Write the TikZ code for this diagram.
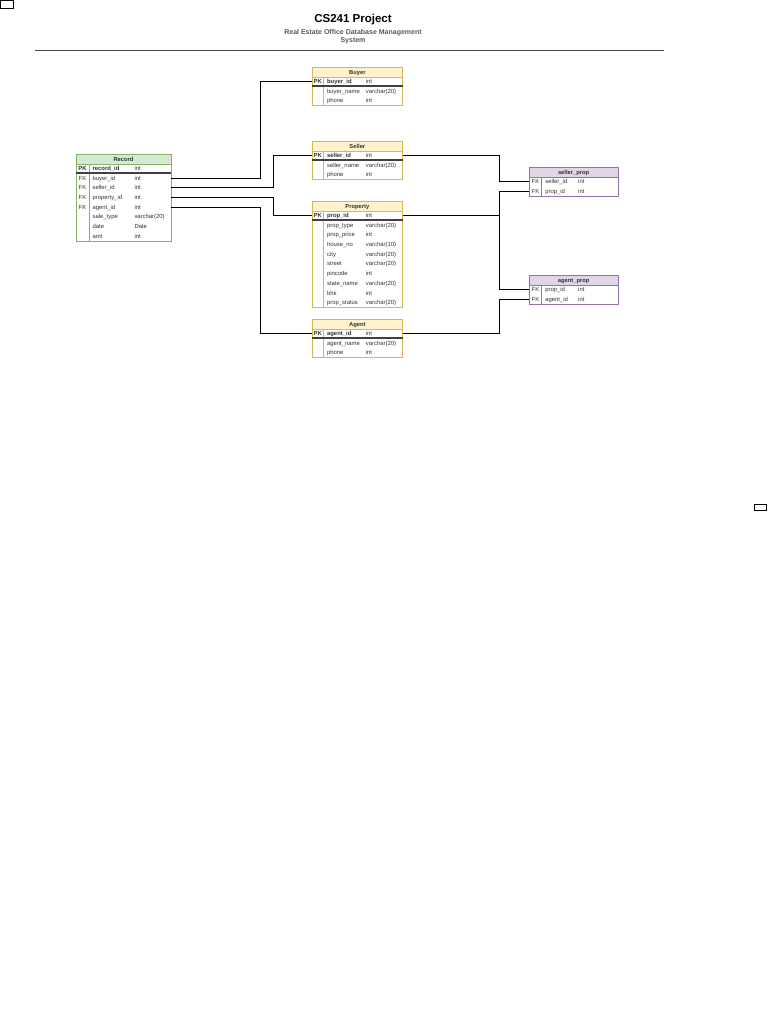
\documentclass[tikz,border=0pt]{standalone}
\usepackage{fontspec}
\setmainfont{Liberation Sans}
\usetikzlibrary{calc}
\definecolor{yelF}{HTML}{FFF2CC}\definecolor{yelD}{HTML}{D6B656}
\definecolor{grnF}{HTML}{D5E8D4}\definecolor{grnD}{HTML}{82B366}
\definecolor{purF}{HTML}{E1D5E7}\definecolor{purD}{HTML}{9673A6}
\definecolor{txt}{HTML}{333333}
\def\kwyel{11.5}\def\kwgrn{13}\def\kwpur{12.4}
\tikzset{
 tabtitle/.style={font=\bfseries\fontsize{5.8}{6}\selectfont, text=txt, inner sep=0, anchor=base},
 tabtext/.style={font=\fontsize{5.9}{6}\selectfont, text=txt, inner sep=0},
 rowslot/.style={inner sep=0, minimum height=9pt},
 link/.style={draw=black, line width=0.8pt},
 pagebox/.style={draw=black, line width=0.8pt},
}
% #1 id #2 L #3 R #4 T #5 B #6 scheme #7 title #8 type offset #9 rows
\newcommand\ertable[9]{%
 \pgfmathsetmacro\erKW{\csname kw#6\endcsname}%
 \pgfmathsetmacro\erW{#3-#2}%
 \pgfmathsetmacro\erM{(#2+#3)/2}%
 \draw[#6D, line width=0.7pt, fill=white] (#2,#4+10) rectangle (#3,#5);
 \draw[#6D, line width=0.7pt, fill=#6F] (#2,#4) rectangle (#3,#4+10);
 \draw[#6D, line width=0.7pt] (#2+\erKW,#4+10) -- (#2+\erKW,#5);
 \node[tabtitle] (#1-title) at (\erM,#4+7.1) {#7};
 \foreach \k/\n/\t/\p [count=\i from 0] in {#9}{
   \node[rowslot, minimum width=\erW pt] (#1-\i) at (\erM, #4+14.3+9.7*\i) {};
   \node[tabtext, anchor=base] at (#2+\erKW/2, #4+16.4+9.7*\i) {\ifnum\p=1 \bfseries\fi\k};
   \node[tabtext, anchor=base west] at (#2+\erKW+3.4, #4+16.4+9.7*\i) {\ifnum\p=1 \underline{\bfseries\n}\else\n\fi};
   \node[tabtext, anchor=base west] at (#2+#8, #4+16.4+9.7*\i) {\t};
   \ifnum\p=1 \draw[black!75, line width=1.2pt] (#2,#4+19) -- (#3,#4+19);\fi
 }
}
\begin{document}
\begin{tikzpicture}[x=1pt,y=-1pt]
\useasboundingbox (0,0) rectangle (768,1024);
\draw[pagebox] (0.7,0.7) rectangle (13.3,8);
\draw[pagebox] (754,504) rectangle (766,510.5);

\node[font=\bfseries\fontsize{11.5}{13}\selectfont] (title) at (353,19.7) {CS241 Project};
\node[font=\bfseries\fontsize{7}{7.8}\selectfont, text=black!65, align=center] (sub) at (353,36.3) {Real Estate Office Database Management\\System};
\draw[line width=0.8pt, black!70] (35,50.3) -- (664,50.3);

\ertable{buyer}{312}{402.7}{67}{105.7}{yel}{Buyer}{53.7}{PK/buyer\_id/int/1, {}/buyer\_name/varchar(20)/0, {}/phone/int/0}
\ertable{seller}{312}{402.7}{141}{179.7}{yel}{Seller}{53.7}{PK/seller\_id/int/1, {}/seller\_name/varchar(20)/0, {}/phone/int/0}
\ertable{property}{312}{402.7}{201}{307.6}{yel}{Property}{53.7}{PK/prop\_id/int/1, {}/prop\_type/varchar(20)/0, {}/prop\_price/int/0, {}/house\_no/varchar(10)/0, {}/city/varchar(20)/0, {}/street/varchar(20)/0, {}/pincode/int/0, {}/state\_name/varchar(20)/0, {}/bhk/int/0, {}/prop\_status/varchar(20)/0}
\ertable{agent}{312}{402.7}{319}{357.7}{yel}{Agent}{53.7}{PK/agent\_id/int/1, {}/agent\_name/varchar(20)/0, {}/phone/int/0}
\ertable{record}{76}{171}{154}{241.2}{grn}{Record}{58.3}{PK/record\_id/int/1, FK/buyer\_id/int/0, FK/seller\_id/int/0, FK/property\_id/int/0, FK/agent\_id/int/0, {}/sale\_type/varchar(20)/0, {}/date/Date/0, {}/amt/int/0}
\ertable{sp}{529.3}{618}{167}{196}{pur}{seller\_prop}{48.7}{FK/seller\_id/int/0, FK/prop\_id/int/0}
\ertable{ap}{529.3}{618}{275}{304}{pur}{agent\_prop}{48.7}{FK/prop\_id/int/0, FK/agent\_id/int/0}

\coordinate (xa) at (260.7,0);
\coordinate (xb) at (273.3,0);
\coordinate (xr) at (499,0);

\draw[link] (record-1.east) -- (record-1.east -| xa) |- (buyer-0.west);
\draw[link] (record-2.east) -- (record-2.east -| xb) |- (seller-0.west);
\draw[link] (record-3.east) -- (record-3.east -| xb) |- (property-0.west);
\draw[link] (record-4.east) -- (record-4.east -| xa) |- (agent-0.west);

\draw[link] (seller-0.east) -- (seller-0.east -| xr) |- (sp-0.west);
\draw[link] (property-0.east) -- (property-0.east -| xr) |- (sp-1.west);
\draw[link] (property-0.east -| xr) |- (ap-0.west);
\draw[link] (agent-0.east) -- (agent-0.east -| xr) |- (ap-1.west);
\end{tikzpicture}
\end{document}
